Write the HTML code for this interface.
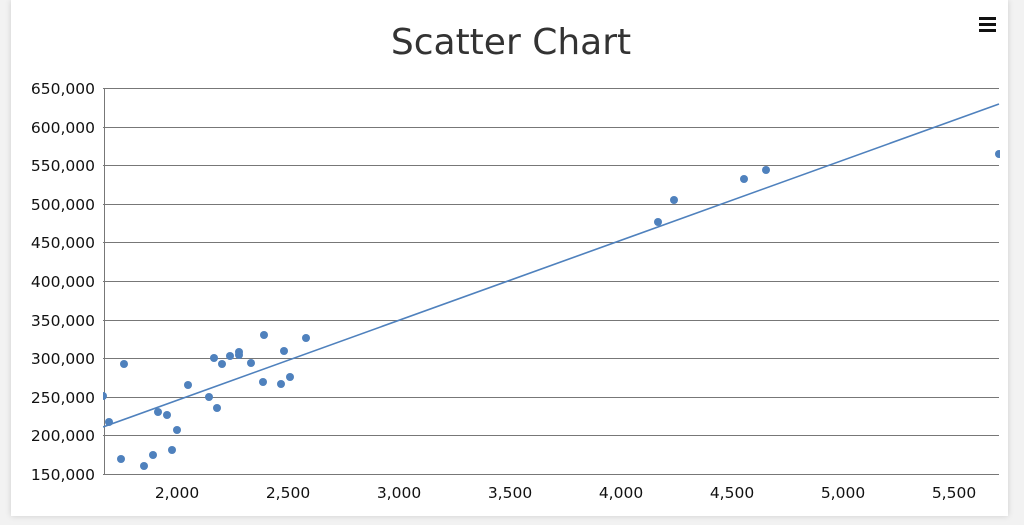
<!DOCTYPE html>
<html><head><style>
body{margin:0;background:#f2f2f2;width:1024px;height:525px;overflow:hidden;font-family:"DejaVu Sans","Liberation Sans",sans-serif}
.card{position:absolute;left:11px;top:0;width:997px;height:516px;background:#fff;box-shadow:0 0 6px rgba(0,0,0,.15)}
</style></head><body>
<div class="card"></div>
<svg width="1024" height="525" style="position:absolute;left:0;top:0">
<defs><clipPath id="c"><rect x="103" y="80" width="897" height="395"/></clipPath></defs>
<text x="511" y="54" text-anchor="middle" font-size="36" fill="#333" font-family="DejaVu Sans, sans-serif">Scatter Chart</text>
<g fill="#111"><rect x="979" y="17" width="17" height="3"/><rect x="979" y="23" width="17" height="3"/><rect x="979" y="29" width="17" height="3"/></g>
<g stroke="#777" stroke-width="1">
<line x1="103" x2="999" y1="88.5" y2="88.5"/><line x1="103" x2="999" y1="127.5" y2="127.5"/><line x1="103" x2="999" y1="165.5" y2="165.5"/><line x1="103" x2="999" y1="204.5" y2="204.5"/><line x1="103" x2="999" y1="242.5" y2="242.5"/><line x1="103" x2="999" y1="281.5" y2="281.5"/><line x1="103" x2="999" y1="320.5" y2="320.5"/><line x1="103" x2="999" y1="358.5" y2="358.5"/><line x1="103" x2="999" y1="397.5" y2="397.5"/><line x1="103" x2="999" y1="435.5" y2="435.5"/><line x1="103" x2="999" y1="474.5" y2="474.5"/>
<line x1="104.5" x2="104.5" y1="88" y2="474"/>
</g>
<g font-size="15.5" fill="#111" text-anchor="end">
<text x="95" y="94">650,000</text><text x="95" y="133">600,000</text><text x="95" y="171">550,000</text><text x="95" y="210">500,000</text><text x="95" y="248">450,000</text><text x="95" y="287">400,000</text><text x="95" y="326">350,000</text><text x="95" y="364">300,000</text><text x="95" y="403">250,000</text><text x="95" y="441">200,000</text><text x="95" y="480">150,000</text>
</g>
<g font-size="15.5" fill="#111" text-anchor="middle">
<text x="177" y="498">2,000</text><text x="288" y="498">2,500</text><text x="399" y="498">3,000</text><text x="510" y="498">3,500</text><text x="621" y="498">4,000</text><text x="732" y="498">4,500</text><text x="843" y="498">5,000</text><text x="954" y="498">5,500</text>
</g>
<g clip-path="url(#c)">
<line x1="103" y1="427" x2="999" y2="104" stroke="#4f81bd" stroke-width="1.6"/>
<g fill="#4f81bd">
<circle cx="103" cy="396" r="4"/><circle cx="109" cy="422" r="4"/><circle cx="121" cy="459" r="4"/><circle cx="124" cy="364" r="4"/><circle cx="144" cy="466" r="4"/><circle cx="153" cy="455" r="4"/><circle cx="158" cy="412" r="4"/><circle cx="167" cy="415" r="4"/><circle cx="172" cy="450" r="4"/><circle cx="177" cy="430" r="4"/><circle cx="188" cy="385" r="4"/><circle cx="209" cy="397" r="4"/><circle cx="214" cy="358" r="4"/><circle cx="217" cy="408" r="4"/><circle cx="222" cy="364" r="4"/><circle cx="230" cy="356" r="4"/><circle cx="239" cy="352" r="4"/><circle cx="239" cy="355" r="4"/><circle cx="251" cy="363" r="4"/><circle cx="263" cy="382" r="4"/><circle cx="264" cy="335" r="4"/><circle cx="281" cy="384" r="4"/><circle cx="284" cy="351" r="4"/><circle cx="290" cy="377" r="4"/><circle cx="306" cy="338" r="4"/><circle cx="658" cy="222" r="4"/><circle cx="674" cy="200" r="4"/><circle cx="744" cy="179" r="4"/><circle cx="766" cy="170" r="4"/><circle cx="999" cy="154" r="4"/>
</g></g>
</svg>
</body></html>
